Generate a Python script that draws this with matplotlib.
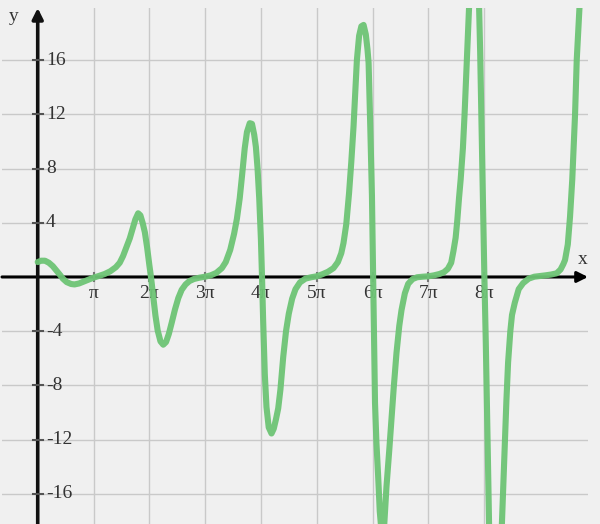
import matplotlib.pyplot as plt
import numpy as np

# curve, x in multiples of pi
x_pi = [0.00, 0.06, 0.13, 0.20, 0.27, 0.33, 0.40, 0.45, 0.52, 0.60, 0.66, 0.74, 0.82, 0.90,
        1.00, 1.10, 1.20, 1.30, 1.40, 1.47, 1.53, 1.60, 1.65, 1.70, 1.75, 1.80, 1.84, 1.88,
        1.92, 1.96, 2.00, 2.03, 2.07, 2.11, 2.15, 2.20, 2.25, 2.30, 2.35, 2.40, 2.46, 2.52,
        2.58, 2.65, 2.72, 2.80, 2.90, 3.00, 3.10, 3.20, 3.30, 3.37, 3.45, 3.52, 3.57, 3.62,
        3.66, 3.71, 3.75, 3.80, 3.84, 3.88, 3.91, 3.94, 3.97, 4.00, 4.02, 4.04, 4.07, 4.10,
        4.14, 4.19, 4.23, 4.27, 4.31, 4.35, 4.40, 4.45, 4.50, 4.56, 4.62, 4.70, 4.80, 4.90,
        5.00, 5.10, 5.20, 5.30, 5.38, 5.44, 5.48, 5.53, 5.58, 5.62, 5.66, 5.69, 5.72, 5.76,
        5.80, 5.84, 5.88, 5.91, 5.93, 5.96, 5.99, 6.01, 6.025, 6.045, 6.07, 6.10, 6.13, 6.17,
        6.21, 6.25, 6.30, 6.34, 6.38, 6.43, 6.48, 6.52, 6.58, 6.64, 6.72, 6.80, 6.90, 7.00,
        7.10, 7.20, 7.28, 7.35, 7.41, 7.45, 7.49, 7.52, 7.55, 7.58, 7.62, 7.65, 7.69, 7.73,
        7.77, 7.81, 7.85, 7.88, 7.91, 7.93, 7.95, 7.97, 7.99, 8.005, 8.03, 8.05, 8.07, 8.09,
        8.13, 8.19, 8.25, 8.29, 8.32, 8.36, 8.40, 8.43, 8.47, 8.50, 8.55, 8.62, 8.70, 8.80,
        8.90, 9.00, 9.10, 9.20, 9.30, 9.37, 9.42, 9.45, 9.50, 9.54, 9.58, 9.63, 9.66, 9.71,
        9.75]
y_val = [1.10, 1.20, 1.20, 1.05, 0.80, 0.50, 0.15, -0.12, -0.38, -0.52, -0.55, -0.48, -0.35, -0.22,
         -0.05, 0.08, 0.22, 0.42, 0.72, 1.05, 1.55, 2.30, 2.85, 3.55, 4.25, 4.70, 4.55, 4.00,
         3.30, 2.20, 0.90, 0.00, -1.40, -2.85, -3.95, -4.75, -5.00, -4.80, -4.20, -3.40, -2.40, -1.55,
         -0.95, -0.55, -0.30, -0.15, -0.05, 0.02, 0.12, 0.30, 0.65, 1.10, 2.00, 3.20, 4.30, 5.80,
         7.40, 9.50, 10.70, 11.35, 11.30, 10.50, 9.60, 8.00, 5.80, 2.80, 0.00, -3.20, -7.20, -9.60,
         -11.10, -11.55, -11.20, -10.50, -9.70, -8.30, -5.90, -4.00, -2.70, -1.60, -0.90, -0.40, -0.12, -0.02,
         0.05, 0.20, 0.38, 0.65, 1.10, 1.75, 2.50, 3.90, 6.20, 8.50, 11.10, 13.60, 16.00, 17.80,
         18.50, 18.60, 17.90, 16.80, 15.80, 11.10, 6.00, 0.30, -4.40, -9.30, -12.20, -14.60, -17.30, -19.20,
         -18.30, -15.50, -12.80, -10.50, -8.20, -5.60, -3.60, -2.44, -1.20, -0.50, -0.15, -0.02, 0.02, 0.05,
         0.12, 0.22, 0.35, 0.60, 1.05, 1.90, 2.90, 4.20, 5.80, 7.20, 9.50, 12.00, 16.00, 19.85,
         23.00, 25.50, 26.20, 25.00, 20.00, 16.50, 12.00, 7.20, 3.00, 0.00, -4.80, -9.10, -13.80, -18.50,
         -23.50, -26.20, -24.50, -21.50, -18.10, -13.50, -9.10, -6.30, -4.00, -2.80, -1.90, -0.90, -0.45, -0.12,
         0.02, 0.07, 0.12, 0.18, 0.27, 0.55, 0.95, 1.25, 2.40, 4.45, 7.20, 12.00, 16.00, 19.85,
         23.50]

x_ticks_pi = [1, 2, 3, 4, 5, 6, 7, 8]
x_tick_labels = ['π', '2π', '3π', '4π', '5π', '6π', '7π', '8π']
y_ticks = [-16, -12, -8, -4, 4, 8, 12, 16]

xmin, xmax = -0.64 * np.pi, 9.862 * np.pi
ymin, ymax = -18.23, 19.85

fig = plt.figure(figsize=(6, 5.24), dpi=100)
fig.patch.set_facecolor('#f0f0f0')
ax = fig.add_axes([2 / 600, 0, 586 / 600, 516 / 524])
ax.set_facecolor('#f0f0f0')
ax.set_xlim(xmin, xmax)
ax.set_ylim(ymin, ymax)
for s in ax.spines.values():
    s.set_visible(False)
ax.set_xticks([])
ax.set_yticks([])

# grid
for t in x_ticks_pi:
    ax.axvline(t * np.pi, color='#c9c9c9', lw=1, zorder=1)
for t in y_ticks:
    ax.axhline(t, color='#c9c9c9', lw=1, zorder=1)

# axes with arrows
ax.annotate('', xy=(xmax, 0), xytext=(xmin, 0), annotation_clip=False,
            arrowprops=dict(arrowstyle='-|>', color='black', lw=2.2, mutation_scale=16,
                            shrinkA=0, shrinkB=0), zorder=3)
ax.annotate('', xy=(0, ymax), xytext=(0, ymin - 1), annotation_clip=False,
            arrowprops=dict(arrowstyle='-|>', color='#111111', lw=2.6, mutation_scale=16,
                            shrinkA=0, shrinkB=0), zorder=3)

font = dict(family='Liberation Serif', fontsize=14, color='#333333')
dx = 0.09 * np.pi
for t in y_ticks:
    ax.plot([-dx, dx], [t, t], color='#555555', lw=1.5, zorder=4)
    ax.text(0.15 * np.pi, t, str(t), ha='left', va='center', **font)
for t, lab in zip(x_ticks_pi, x_tick_labels):
    ax.plot([t * np.pi, t * np.pi], [-0.3, 0.3], color='#777777', lw=1.5, zorder=4)
    ax.text(t * np.pi, -1.25, lab, ha='center', va='center', **font)
ax.text(-0.43 * np.pi, 19.2, 'y', ha='center', va='center', **font)
ax.text(9.77 * np.pi, 1.3, 'x', ha='center', va='center', **font)

ax.plot(np.array(x_pi) * np.pi, y_val, color='#6dc475', lw=4.4, alpha=0.95,
        solid_capstyle='round', solid_joinstyle='round', zorder=5)

plt.savefig('out.png', dpi=100, facecolor=fig.get_facecolor())
